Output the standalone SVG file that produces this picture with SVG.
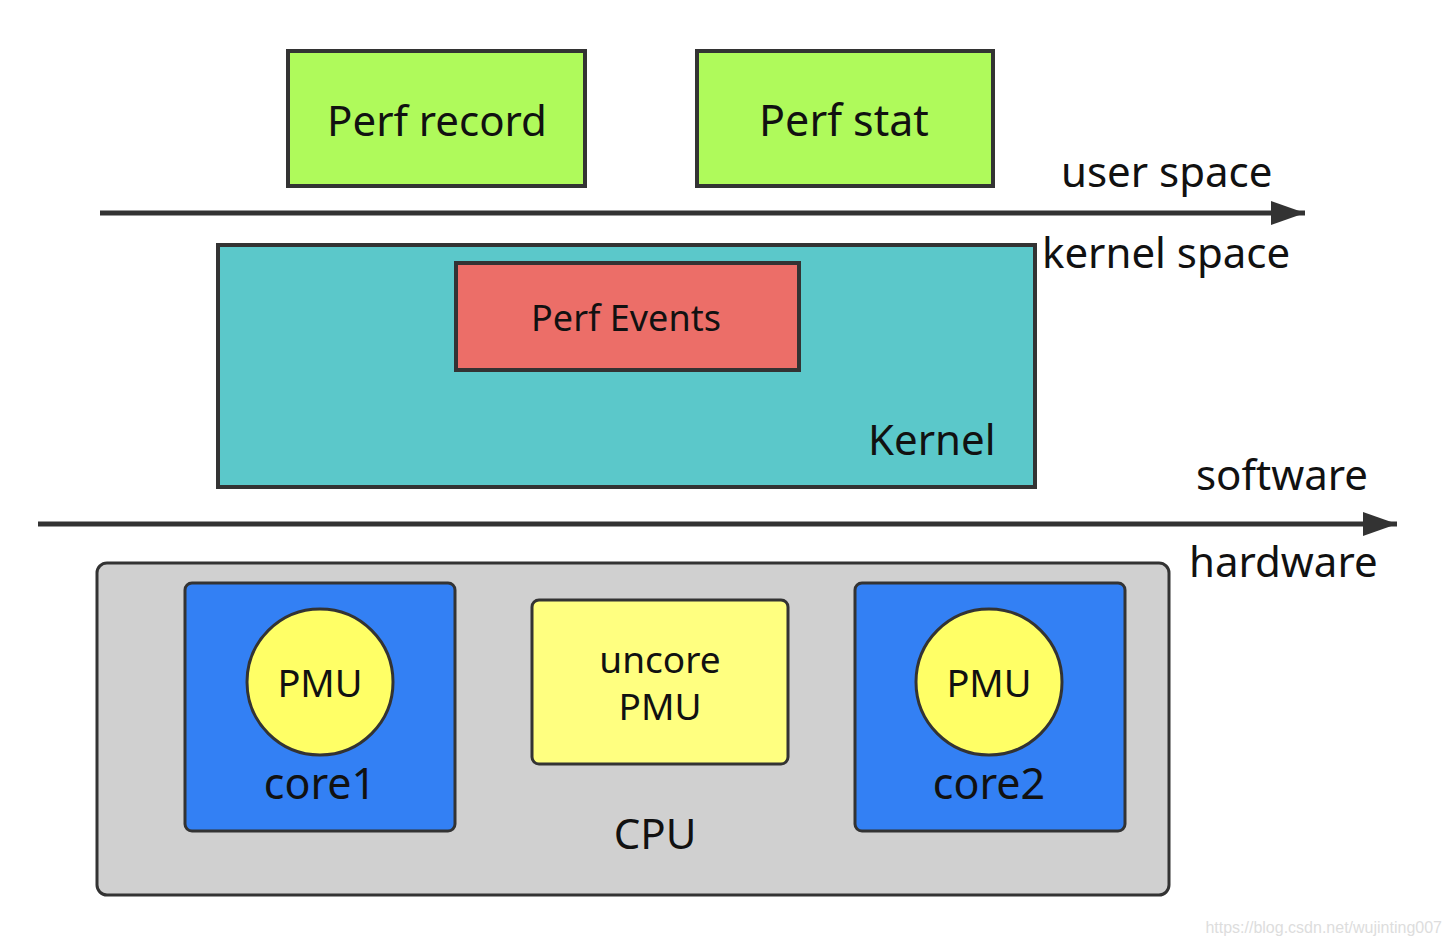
<svg xmlns="http://www.w3.org/2000/svg" width="1452" height="946" viewBox="0 0 1452 946">
<style>
text{font-family:"Noto Sans","Open Sans","DejaVu Sans",sans-serif;fill:#111;}
.box{stroke:#333;stroke-width:4;}
.green{fill:#AFFA5B;}
.lbl{font-size:42px;}
.mid{text-anchor:middle;}
.core{fill:#3380F4;stroke:#333;stroke-width:3;}
.pmu{fill:#FFFF66;stroke:#333;stroke-width:3;}
.axis{stroke:#333;stroke-width:5;fill:none;}
</style>
<defs>
<marker id="arr" markerWidth="34" markerHeight="24" refX="34" refY="12" orient="auto" markerUnits="userSpaceOnUse">
<path d="M0,0 L34,12 L0,24 Z" fill="#333"/>
</marker>
</defs>
<rect width="1452" height="946" fill="#fff"/>
<g id="connectors">
<line class="axis" x1="100" y1="213" x2="1305" y2="213" marker-end="url(#arr)"/>
<line class="axis" x1="38" y1="524" x2="1397" y2="524" marker-end="url(#arr)"/>
</g>
<g id="labels">
<text class="lbl" x="1061" y="187">user space</text>
<text class="lbl" x="1042" y="268">kernel space</text>
<text class="lbl" x="1196" y="490">software</text>
<text class="lbl" x="1189" y="577">hardware</text>
</g>
<g id="perf-record">
<rect class="box green" x="288" y="51" width="297" height="135"/>
<text class="lbl mid" x="437" y="136">Perf record</text>
</g>
<g id="perf-stat">
<rect class="box green" x="697" y="51" width="296" height="135"/>
<text class="mid" x="844" y="136" style="font-size:43px">Perf stat</text>
</g>
<g id="kernel">
<rect class="box" fill="#5BC8CA" x="218" y="245" width="817" height="242"/>
<text class="lbl" x="868" y="455">Kernel</text>
</g>
<g id="perf-events">
<rect class="box" fill="#EC6E68" x="456" y="263" width="343" height="107"/>
<text class="mid" x="626" y="331" style="font-size:36px">Perf Events</text>
</g>
<g id="cpu">
<rect fill="#D0D0D0" stroke="#333" stroke-width="3" x="97" y="563" width="1072" height="332" rx="10"/>
<text class="mid" x="655" y="849" style="font-size:42px">CPU</text>
</g>
<g id="core1">
<rect class="core" x="185" y="583" width="270" height="248" rx="7"/>
<circle class="pmu" cx="320" cy="682" r="73"/>
<text class="mid" x="320" y="697" style="font-size:38px">PMU</text>
<text class="mid" x="320" y="799" style="font-size:43px">core1</text>
</g>
<g id="uncore-pmu">
<rect fill="#FFFF80" stroke="#333" stroke-width="3" x="532" y="600" width="256" height="164" rx="7"/>
<text class="mid" x="660" y="673" style="font-size:37px">uncore</text>
<text class="mid" x="660" y="720" style="font-size:37px">PMU</text>
</g>
<g id="core2">
<rect class="core" x="855" y="583" width="270" height="248" rx="7"/>
<circle class="pmu" cx="989" cy="682" r="73"/>
<text class="mid" x="989" y="697" style="font-size:38px">PMU</text>
<text class="mid" x="989" y="799" style="font-size:43px">core2</text>
</g>
<text x="1442" y="933" text-anchor="end" style="font-family:'Liberation Sans',sans-serif;font-size:16px;fill:#ddd">https://blog.csdn.net/wujinting007</text>
</svg>
